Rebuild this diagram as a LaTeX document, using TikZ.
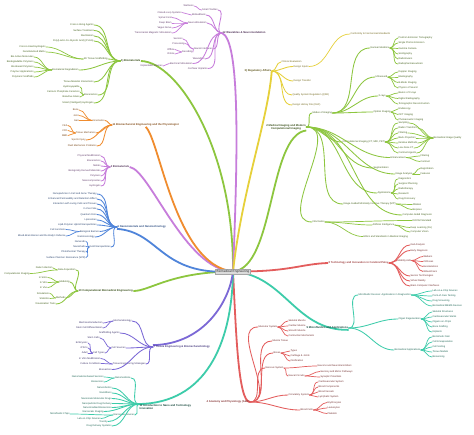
\documentclass[tikz,border=0pt]{standalone}
\usepackage{fontspec}
\setmainfont{Liberation Sans}
\usetikzlibrary{backgrounds}
\definecolor{gA}{HTML}{8DC63F}
\definecolor{gM}{HTML}{C77DDB}
\definecolor{gY}{HTML}{E6D03A}
\definecolor{gI}{HTML}{8DC63F}
\definecolor{gR}{HTML}{E35D5D}
\definecolor{gT}{HTML}{3DCCAA}
\definecolor{gP}{HTML}{7B68D6}
\definecolor{gB}{HTML}{4F84DA}
\definecolor{gO}{HTML}{F08C2E}
\newcommand\kL[7]{\node[lf,anchor=east,text=#5!50!black] (#1) at (#3,#4) {#7};\draw[#5,#6] (#2) to[out=180,in=0] (#1.east);}
\newcommand\kR[7]{\node[lf,anchor=west,text=#5!50!black] (#1) at (#3,#4) {#7};\draw[#5,#6] (#2) to[out=0,in=180] (#1.west);}
\begin{document}
\begin{tikzpicture}[x=1pt,y=-1pt,line cap=round,
  lf/.style={font=\fontsize{2.45}{2.8}\selectfont,inner sep=0.3pt},
  mn/.style={font=\bfseries\fontsize{2.7}{3.2}\selectfont,inner sep=0.4pt},
  rootbox/.style={font=\fontsize{3.1}{3.6}\selectfont,fill=black!14,draw=black!35,line width=0.3pt,inner sep=1.3pt,text=black!85},
  l1/.style={line width=1.8pt},
  l2/.style={line width=0.85pt},
  l3/.style={line width=0.7pt}]
\useasboundingbox (0,0) rectangle (474,434);
\node[rootbox] (root) at (233,271.5) {Biomedical Engineering};

% ---------- A: Biomaterials (green, top-left)
\node[mn,anchor=east,text=gA!40!black] (MA) at (141,61) {1) Biomaterials};
\kL{A1}{MA.west}{94}{25}{gA}{l2}{Cross-Linking Agents}
\kL{A2}{MA.west}{94}{30.5}{gA}{l2}{Surface Treatment}
\kL{A3}{MA.west}{94}{36}{gA}{l2}{Sterilization}
\kL{A4}{MA.west}{94}{41}{gA}{l2}{Poly(Lactic-Co-Glycolic Acid) (PLGA)}
\kL{AS}{MA.west}{108}{59}{gA}{l2}{3D Tissue Scaffolding}
\kL{AS1}{AS.west}{46}{47}{gA}{l3}{Cross-Linked Hydrogels}
\kL{AS2}{AS.west}{46}{52}{gA}{l3}{Decellularized Matrix}
\kL{AS3}{MA.west}{79}{70}{gA}{l2}{Biomaterial Degradation}
\kL{AT1}{AS3.west}{34}{57}{gA}{l3}{Bio-Active Molecules}
\kL{AT2}{AS3.west}{34}{62}{gA}{l3}{Biodegradable Polymers}
\kL{AT3}{AS3.west}{34}{67}{gA}{l3}{Bio-Based Polymers}
\kL{AT4}{AS3.west}{34}{72}{gA}{l3}{Polymer Applications}
\kL{AT5}{AS3.west}{34}{77}{gA}{l3}{Polymeric Scaffolds}
\kL{A5}{MA.west}{94}{82}{gA}{l2}{Tissue-Material Interactions}
\kL{AN}{MA.west}{98}{95}{gA}{l2}{Bioceramics}
\kL{AN1}{AN.west}{80}{87}{gA}{l3}{Hydroxyapatite}
\kL{AN2}{AN.west}{80}{92}{gA}{l3}{Calcium Phosphate Ceramics}
\kL{AN3}{AN.west}{80}{97}{gA}{l3}{Bioactive Glass}
\kL{A6}{MA.west}{94}{103}{gA}{l2}{Smart (Intelligent) Hydrogels}

% ---------- M: Wearables (violet, top)
\node[mn,anchor=west,text=gM!40!black] (MM) at (222,33) {12 Wearables \& Neuromodulation};
\kL{M1}{MM.west}{218}{10}{gM}{l2}{Smart Textiles}
\kL{M1a}{M1.west}{194}{6}{gM}{l3}{Wellness}
\kL{M2}{MM.west}{206}{15}{gM}{l2}{Biofeedback}
\kL{M2a}{M2.west}{182}{12.5}{gM}{l3}{Closed-Loop Systems}
\kL{M3}{MM.west}{207}{23}{gM}{l2}{Neurostimulation}
\kL{M3a}{M3.west}{172}{17.5}{gM}{l3}{Spinal Cord}
\kL{M3b}{M3.west}{172}{23}{gM}{l3}{Deep Brain}
\kL{M3c}{M3.west}{172}{28}{gM}{l3}{Vagus Nerve}
\kL{M3d}{M3.west}{172}{33}{gM}{l3}{Transcranial Magnetic Stimulation}
\kL{M4}{MM.west}{213}{49}{gM}{l2}{Neural Interfaces}
\kL{M4a}{M4.west}{183}{39}{gM}{l3}{Sensors}
\kL{M4b}{M4.west}{185}{43.5}{gM}{l3}{Processing}
\kL{M4c}{M4.west}{193}{52}{gM}{l3}{Decoding}
\kL{M4d}{M4c.west}{175}{49.5}{gM}{l3}{Offline}
\kL{M4e}{M4c.west}{175}{54}{gM}{l3}{Online}
\kL{M5}{MM.west}{205}{59}{gM}{l2}{Wearables}
\kL{M6}{MM.west}{193}{63.5}{gM}{l2}{Electrical Stimulation}
\kL{M6a}{M6.west}{163}{66}{gM}{l3}{Implantable Devices}
\kL{M7}{MM.west}{208}{68.5}{gM}{l2}{Cochlear Implants}

% ---------- Y: Regulatory (yellow)
\node[mn,anchor=west,text=gY!40!black] (YM) at (244,71) {3) Regulatory Affairs};
\kR{Y1}{YM.east}{281}{62}{gY}{l2}{Clinical Evaluation}
\kR{Y2}{YM.east}{293}{66.5}{gY}{l2}{Design Inputs}
\kR{Y2a}{Y2.east}{350}{34}{gY}{l3}{Conformity to harmonized standards}
\kR{Y3}{YM.east}{293}{81}{gY}{l2}{Design Transfer}
\kR{Y4}{YM.east}{292}{95}{gY}{l2}{Quality System Regulation (QSR)}
\kR{Y5}{YM.east}{292}{105}{gY}{l2}{Design History File (DHF)}

% ---------- I: Medical Imaging (green, right)
\node[mn,align=center,text=gI!40!black] (GM) at (286,127) {2 Medical Imaging and Modern\\Computational Imaging};
\kR{I1}{GM.east}{312}{113}{gI}{l2}{Modes of Imaging}
\kR{I1a}{I1.east}{370}{48}{gI}{l2}{Nuclear Medicine}
\kR{N1}{I1a.east}{398}{38}{gI}{l3}{Positron Emission Tomography}
\kR{N2}{I1a.east}{398}{43}{gI}{l3}{Single Photon Emission}
\kR{N3}{I1a.east}{398}{48.5}{gI}{l3}{Gamma Camera}
\kR{N4}{I1a.east}{398}{54}{gI}{l3}{Scintigraphy}
\kR{N5}{I1a.east}{398}{59}{gI}{l3}{Radiotracers}
\kR{N6}{I1a.east}{398}{64}{gI}{l3}{Radiopharmaceuticals}
\kR{I1b}{I1.east}{375}{77}{gI}{l2}{Ultrasound}
\kR{U1}{I1b.east}{398}{72}{gI}{l3}{Doppler Imaging}
\kR{U2}{I1b.east}{398}{77}{gI}{l3}{Elastography}
\kR{U3}{I1b.east}{398}{82.5}{gI}{l3}{B-Mode Imaging}
\kR{U4}{I1b.east}{398}{88}{gI}{l3}{Physics of Sound}
\kR{I1c}{I1.east}{378}{96}{gI}{l2}{X-rays}
\kR{X1}{I1c.east}{398}{93}{gI}{l3}{Basics of X-rays}
\kR{X2}{I1c.east}{398}{98.5}{gI}{l3}{Digital Radiography}
\kR{X3}{I1c.east}{398}{104}{gI}{l3}{Tomographic Reconstruction}
\kR{I1d}{I1.east}{373}{112}{gI}{l2}{Optical Imaging}
\kR{O1a}{I1d.east}{398}{109}{gI}{l3}{Endoscopy}
\kR{O1b}{I1d.east}{398}{114.5}{gI}{l3}{OCT Imaging}
\kR{O1c}{I1d.east}{398}{120}{gI}{l3}{Photoacoustic Imaging}
\kR{I2}{GM.east}{342}{142}{gI}{l2}{Computational Imaging (CT, MRI, PET)}
\node[lf,anchor=west,text=gI!50!black] (IQ) at (433,138) {Biomedical Image Quality};
\kR{Q1}{I2.east}{398}{123}{gI}{l3}{Sampling}
\kR{Q2}{I2.east}{398}{128}{gI}{l3}{Radon Transform}
\kR{Q3}{I2.east}{398}{133}{gI}{l3}{Filtering}
\kR{Q4}{I2.east}{398}{138}{gI}{l3}{Back-Projection}
\kR{Q5}{I2.east}{398}{143}{gI}{l3}{Iterative Methods}
\kR{Q6}{I2.east}{398}{148}{gI}{l3}{Low-Dose CT}
\kR{Q7}{I2.east}{398}{153}{gI}{l3}{Contrast Agents}
\foreach \q in {Q1,Q2,Q3,Q4,Q5,Q6,Q7}{\draw[gI,l3] (\q.east) to[out=0,in=180] (IQ.west);}
\kR{I3}{GM.east}{390}{157.5}{gI}{l2}{Enhancement}
\kR{E1}{I3.east}{420}{156}{gI}{l3}{Filtering}
\kR{E2}{I3.east}{420}{161.5}{gI}{l3}{Contrast}
\kR{I4}{GM.east}{373}{168}{gI}{l2}{Segmentation}
\kR{I5}{GM.east}{395}{174}{gI}{l2}{Image Analysis}
\kR{F1}{I5.east}{420}{168.5}{gI}{l3}{Registration}
\kR{F2}{I5.east}{420}{174}{gI}{l3}{Features}
\kR{I6}{GM.east}{377}{193}{gI}{l2}{Applications}
\kR{P1a}{I6.east}{398}{179}{gI}{l3}{Diagnostics}
\kR{P1b}{I6.east}{398}{184}{gI}{l3}{Surgical Planning}
\kR{P1c}{I6.east}{398}{189}{gI}{l3}{Radiotherapy}
\kR{P1d}{I6.east}{398}{194}{gI}{l3}{Research}
\kR{P1e}{I6.east}{398}{199}{gI}{l3}{Drug Discovery}
\kR{I7}{GM.east}{343}{204}{gI}{l2}{Image-Guided Minimally Invasive Therapy (MIT)}
\kR{G1}{I7.east}{412}{204.5}{gI}{l3}{Ablation}
\kR{G2}{I7.east}{412}{209.5}{gI}{l3}{Biopsies}
\kR{I8}{GM.east}{402}{215}{gI}{l2}{Computer-Aided Diagnosis}
\kR{I9}{GM.east}{312}{222}{gI}{l2}{Informatics}
\kR{H1}{I9.east}{412}{220.5}{gI}{l3}{DICOM Standard}
\kR{H2}{I9.east}{372}{225}{gI}{l3}{Artificial Intelligence}
\kR{H2a}{H2.east}{410}{227.5}{gI}{l3}{Deep Learning (DL)}
\kR{H2b}{H2.east}{410}{232}{gI}{l3}{Computer Vision}
\kR{H3}{I9.east}{363}{236.5}{gI}{l3}{Ethics and Standards in Medical Imaging}

% ---------- R1: Cerebral Palsy (red)
\node[mn,anchor=west,text=gR!70!black] (R1) at (328,263) {8 Technology and Innovation in Cerebral Palsy};
\kR{C1a}{R1.east}{410}{245}{gR}{l2}{Gait Analysis}
\kR{C1b}{R1.east}{410}{250.5}{gR}{l2}{Early Diagnosis}
\kR{RS}{R1.east}{397}{260.5}{gR}{l2}{Mobility Aids}
\kR{RS1}{RS.east}{423}{256.5}{gR}{l3}{Walkers}
\kR{RS2}{RS.east}{423}{261.5}{gR}{l3}{Orthoses}
\kR{RS3}{RS.east}{423}{266.5}{gR}{l3}{Exoskeletons}
\kR{RS4}{RS.east}{423}{271.5}{gR}{l3}{Wheelchairs}
\kR{C1c}{R1.east}{410}{276}{gR}{l2}{Sensor Technologies}
\kR{C1d}{R1.east}{410}{281}{gR}{l2}{Virtual Reality}
\kR{C1e}{R1.east}{410}{286}{gR}{l2}{Brain-Computer Interfaces}

% ---------- T1: Microfluidics (teal)
\node[mn,anchor=west,text=gT!35!black] (T1) at (306,328) {9 Microfluidics and Applications};
\kR{T1a}{T1.east}{358}{295}{gT}{l2}{Microfluidic Devices: Applications in Diagnostics}
\kR{Ta1}{T1a.east}{432}{291}{gT}{l3}{Lab-on-a-Chip Devices}
\kR{Ta2}{T1a.east}{432}{296}{gT}{l3}{Point-of-Care Testing}
\kR{Ta3}{T1a.east}{432}{301}{gT}{l3}{Drug Screening}
\kR{Ta4}{T1a.east}{432}{306}{gT}{l3}{Biomedical MEMS Devices}
\kR{T1b}{T1.east}{398}{319}{gT}{l2}{Organ Regeneration}
\kR{Tb1}{T1b.east}{432}{312}{gT}{l3}{Skeletal Structures}
\kR{Tb2}{T1b.east}{432}{317}{gT}{l3}{Cardiovascular Stents}
\kR{Tb3}{T1b.east}{432}{322}{gT}{l3}{Organs-on-Chips}
\kR{Tb4}{T1b.east}{432}{327}{gT}{l3}{Bone Grafting}
\kR{Tb5}{T1b.east}{432}{332}{gT}{l3}{Implants}
\kR{T1c}{T1.east}{394}{350}{gT}{l2}{Biomedical Applications}
\kR{Tc1}{T1c.east}{432}{337}{gT}{l3}{Biomimetic Skin}
\kR{Tc2}{T1c.east}{432}{342}{gT}{l3}{Cell Encapsulation}
\kR{Tc3}{T1c.east}{432}{347}{gT}{l3}{Cell Sorting}
\kR{Tc4}{T1c.east}{432}{352}{gT}{l3}{Tissue Models}
\kR{Tc5}{T1c.east}{432}{357}{gT}{l3}{Biosensing}

% ---------- R2: Anatomy and Physiology (red)
\node[mn,anchor=east,text=gR!60!black] (R2) at (250,402) {4 Anatomy and Physiology (A\&P)};
\kR{R2a}{R2.east}{258}{327}{gR}{l2}{Muscular System}
\kR{Ra1}{R2a.east}{288}{321}{gR}{l3}{Skeletal Muscle}
\kR{Ra2}{R2a.east}{288}{326}{gR}{l3}{Cardiac Muscle}
\kR{Ra3}{R2a.east}{288}{331}{gR}{l3}{Smooth Muscle}
\kR{Ra4}{R2a.east}{288}{336}{gR}{l3}{Contraction Mechanism}
\kR{R2b}{R2.east}{272}{341}{gR}{l2}{Muscle Tissue}
\kR{R2c}{R2.east}{273}{353}{gR}{l2}{Bones}
\kR{Rc1}{R2c.east}{290}{351}{gR}{l3}{Types}
\kR{Rc2}{R2c.east}{290}{356}{gR}{l3}{Cartilage \& Joints}
\kR{Rc3}{R2c.east}{290}{361}{gR}{l3}{Ossification}
\kR{R2d}{R2.east}{265}{368}{gR}{l2}{Nervous System}
\kR{Rd1}{R2d.east}{317}{366}{gR}{l3}{Neurons and Neurotransmitters}
\kR{Rd2}{R2d.east}{288}{376}{gR}{l3}{Neural Circuits}
\kR{Rd3}{Rd2.east}{320}{371.5}{gR}{l3}{Sensory and Motor Pathways}
\kR{Rd4}{Rd2.east}{320}{377}{gR}{l3}{Synaptic Potentials}
\kR{R2e}{R2.east}{288}{395}{gR}{l2}{Circulatory System}
\kR{Re1}{R2e.east}{318}{382}{gR}{l3}{Cardiovascular System}
\kR{Re2}{R2e.east}{318}{387}{gR}{l3}{Blood Components}
\kR{Re3}{R2e.east}{318}{392}{gR}{l3}{Blood Vessels}
\kR{Re4}{R2e.east}{318}{397}{gR}{l3}{Lymphatic System}
\kR{R2f}{R2.east}{300}{410}{gR}{l2}{Blood Cells}
\kR{Rf1}{R2f.east}{327}{402.5}{gR}{l3}{Erythrocytes}
\kR{Rf2}{R2f.east}{327}{408}{gR}{l3}{Leukocytes}
\kR{Rf3}{R2f.east}{327}{413.5}{gR}{l3}{Platelets}

% ---------- T2: Nano & Innovation (teal)
\node[mn,anchor=north west,align=left,text=gT!35!black] (T2) at (139,404) {11 Introduction to Nano and Technology\\Innovation};
\kL{T2a}{T2.north west}{131}{378}{gT}{l2}{Nanomedicine}
\kL{Ua1}{T2a.west}{104}{377}{gT}{l3}{Nanomaterial-based Sensors}
\kL{Ua2}{T2a.west}{104}{382}{gT}{l3}{Biosensors}
\kL{Ub1}{T2.north west}{112}{388}{gT}{l2}{Nanorobotics}
\kL{Ub2}{T2.north west}{112}{393}{gT}{l2}{Nanofibers}
\kL{Ub3}{T2.north west}{112}{398.5}{gT}{l2}{Nanoscale Molecular Drugs}
\kL{Ub4}{T2.north west}{112}{403.5}{gT}{l2}{Nanoparticle Drug Delivery}
\kL{Ub5}{T2.north west}{112}{407.5}{gT}{l2}{Nano-Enabled Biosensors}
\kL{Ub6}{T2.north west}{104}{411.5}{gT}{l2}{Nanoscale Imaging}
\kL{T2b}{T2.north west}{135}{415}{gT}{l2}{Nanoscale Devices}
\kL{Uc1}{T2b.west}{70}{414}{gT}{l3}{Microfluidic Chips}
\kL{Uc2}{T2b.west}{101}{418.5}{gT}{l3}{Lab-on-Chip Devices}
\kL{Ud1}{T2.north west}{108}{421.5}{gT}{l2}{Toxicity}
\kL{Ud2}{T2.north west}{112}{426}{gT}{l2}{Drug Delivery Systems}

% ---------- P: Tissue Engineering (indigo)
\node[mn,anchor=west,text=gP!60!black] (P) at (153,347) {7 Tissue Engineering \& Biomechanobiology};
\kL{Pa}{P.west}{132}{321}{gP}{l2}{Mechanobiology}
\kL{Pa1}{Pa.west}{103}{323}{gP}{l3}{Mechanotransduction}
\kL{Pa2}{Pa.west}{103}{328}{gP}{l3}{Stem Cell Differentiation}
\kL{Pb}{P.west}{120}{333}{gP}{l2}{Scaffolding Agents}
\kL{Pc}{P.west}{126}{348}{gP}{l2}{Cell Sources}
\kL{Pc1}{Pc.west}{100}{338}{gP}{l3}{Stem Cells}
\kL{Pc2}{Pc.west}{105}{353}{gP}{l3}{Cell Types}
\kL{Pd1}{Pc2.west}{88}{343}{gP}{l3}{Embryonic}
\kL{Pd2}{Pc2.west}{88}{348}{gP}{l3}{iPSCs}
\kL{Pd3}{Pc2.west}{88}{353}{gP}{l3}{Adult}
\kL{Pe}{P.west}{146}{364}{gP}{l2}{Tissue Engineering Strategies}
\kL{Pe1}{Pe.west}{101}{358.5}{gP}{l3}{In Vitro Modification}
\kL{Pe2}{Pe.west}{101}{363.5}{gP}{l3}{Culture Conditions}
\kL{Pf}{P.west}{112}{369.5}{gP}{l2}{Bioreactors}

% ---------- C: Computational (green)
\node[mn,anchor=west,text=gA!40!black] (C) at (78,291) {10 Computational Biomedical Engineering};
\kL{Ca}{C.west}{76}{270}{gA}{l2}{Data Acquisition}
\kL{Ca1}{Ca.west}{53}{268}{gA}{l3}{Data Collection}
\kL{Ca2}{Ca.west}{30}{273.5}{gA}{l3}{Computational Imaging}
\kL{Cb}{C.west}{70}{282}{gA}{l2}{Modeling}
\kL{Cb1}{Cb.west}{48}{277.5}{gA}{l3}{In Silico}
\kL{Cb2}{Cb.west}{48}{282.5}{gA}{l3}{In Vitro}
\kL{Cb3}{Cb.west}{48}{287.5}{gA}{l3}{In Vivo}
\kL{Cc}{C.west}{66}{298}{gA}{l2}{Methods}
\kL{Cc1}{Cc.west}{50}{293.5}{gA}{l3}{Simulations}
\kL{Cc2}{Cc.west}{50}{298.5}{gA}{l3}{Statistics}
\kL{Cd}{C.west}{56}{304}{gA}{l2}{Visualization Tools}

% ---------- B: Nanomaterials (blue)
\node[mn,anchor=west,text=gB!60!black] (B) at (117,227) {6 Nanomaterials and Nanotechnology};
\kL{B1}{B.west}{97}{194}{gB}{l2}{Nanoparticles in Cell and Gene Therapy}
\kL{B2}{B.west}{97}{199}{gB}{l2}{Enhanced Permeability and Retention Effect}
\kL{B3}{B.west}{97}{204}{gB}{l2}{Interaction with Living Cells and Tissues}
\kL{B4}{B.west}{97}{209}{gB}{l2}{In Vivo Fate}
\kL{B5}{B.west}{97}{214.5}{gB}{l2}{Quantum Dots}
\kL{B6}{B.west}{97}{220}{gB}{l2}{Liposomes}
\kL{B7}{B.west}{97}{225}{gB}{l2}{Lipid-Polymer Hybrid Nanoparticles}
\kL{B8}{B.west}{100}{231.5}{gB}{l2}{Biological Barriers}
\kL{B8a}{B8.west}{66}{229.5}{gB}{l3}{Cell Junctions}
\kL{B8b}{B8.west}{66}{236}{gB}{l3}{Blood-Brain Barrier and the Body's Defense}
\kL{B9}{B.west}{95}{237}{gB}{l2}{Nanotoxicology}
\kL{B10}{B.west}{111}{247}{gB}{l2}{Gold Nanoparticles}
\kL{B10a}{B10.west}{86}{241.5}{gB}{l3}{Nanorods}
\kL{B10b}{B10.west}{86}{246.5}{gB}{l3}{Nanoshells}
\kL{B10c}{B10.west}{86}{252}{gB}{l3}{Photothermal Therapy}
\kL{B10d}{B10.west}{86}{257.5}{gB}{l3}{Surface Plasmon Resonance (SPR)}

% ---------- P2: Biomaterials classes (violet)
\node[mn,anchor=west,text=gM!40!black] (P2) at (110,167) {4 Biomaterials};
\kL{V1}{P2.west}{101}{156}{gM}{l2}{Physical Modification}
\kL{V2}{P2.west}{101}{161}{gM}{l2}{Bioceramics}
\kL{V3}{P2.west}{101}{166}{gM}{l2}{Metals}
\kL{V4}{P2.west}{101}{171}{gM}{l2}{Biologically Derived Materials}
\kL{V5}{P2.west}{101}{176}{gM}{l2}{Polymers}
\kL{V6}{P2.west}{101}{181}{gM}{l2}{Nanocomposites}
\kL{V7}{P2.west}{101}{186}{gM}{l2}{Hydrogels}

% ---------- O: Biomechanics (orange)
\node[mn,anchor=west,text=gO!55!black] (O) at (112,125) {11 Biomechanical Engineering and the Physiologist};
\kL{Oa}{O.west}{105}{120.5}{gO}{l2}{Kinematics}
\kL{Oa1}{Oa.west}{79}{110}{gO}{l3}{Bone}
\kL{Oa2}{Oa.west}{79}{115.5}{gO}{l3}{Joint}
\kL{Oa3}{Oa.west}{79}{120.5}{gO}{l3}{Gait}
\kL{Ob}{O.west}{96}{133}{gO}{l2}{Tissue Mechanics}
\kL{Ob1}{Ob.west}{68}{125.5}{gO}{l3}{FEA}
\kL{Ob2}{Ob.west}{68}{130.5}{gO}{l3}{CFD}
\kL{Ob3}{Ob.west}{68}{135.5}{gO}{l3}{MBD}
\kL{Oc}{O.west}{86}{140}{gO}{l2}{Sports Injury}
\kL{Od}{O.west}{97}{146}{gO}{l2}{Fluid Mechanics Problems}

% ---------- main branches
\begin{scope}[on background layer]
\fill[white] (0,0) rectangle (474,434);
\draw[gA,l1] (root.center) .. controls (234,150) and (178,62) .. (MA.east);
\draw[gM,l1] (root.center) .. controls (238,150) and (240,40) .. (MM.west);
\draw[gY,l1] (root.center) .. controls (242,190) and (268,120) .. (YM.east);
\draw[gI,l1] (root.center) .. controls (275,268) and (268,135) .. (GM.south east);
\draw[gR,l1] (root.center) .. controls (290,272) and (300,264) .. (R1.west);
\draw[gT,l1] (root.center) .. controls (285,275) and (295,331) .. (T1.south east);
\draw[gR,l1] (root.center) .. controls (236,330) and (238,402) .. (R2.east);
\draw[gT,l1] (root.center) .. controls (232,345) and (205,403) .. (T2.north west);
\draw[gP,l1] (root.center) .. controls (230,300) and (205,344) .. (P.north west);
\draw[gA,l1] (root.center) .. controls (170,272) and (150,291) .. (C.east);
\draw[gB,l1] (root.center) .. controls (160,276) and (160,232) .. (B.south west);
\draw[gM,l1] (root.center) .. controls (185,270) and (150,170) .. (P2.east);
\draw[gO,l1] (root.center) .. controls (175,265) and (160,140) .. (O.south);
\end{scope}
\end{tikzpicture}
\end{document}
